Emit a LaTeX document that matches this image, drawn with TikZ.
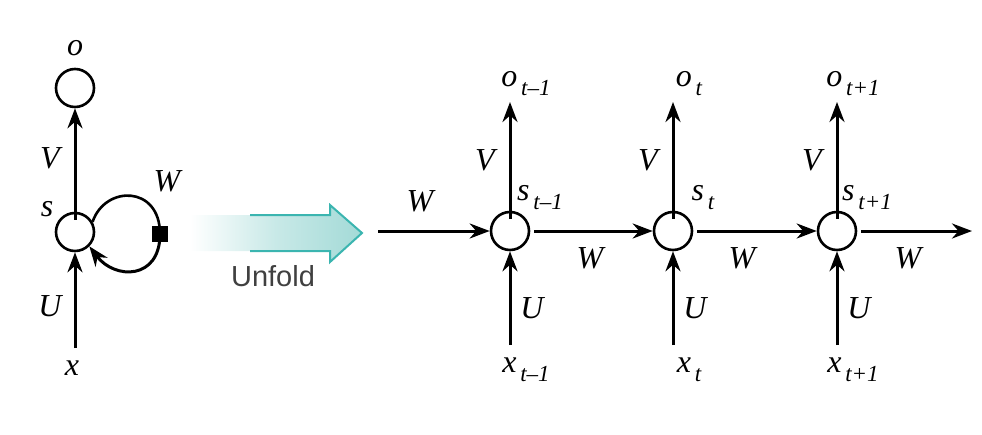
\documentclass[tikz,border=0pt]{standalone}
\usepackage{fontspec}
\setmainfont{Liberation Serif}
\setsansfont{Liberation Sans}
\usetikzlibrary{arrows.meta}
\newcommand{\lblsub}[2]{\textit{#1}\raisebox{-9pt}{\fontsize{23}{25}\selectfont\,\textit{#2}}}
\begin{document}
\begin{tikzpicture}[x=1pt,y=-1pt,
  cell/.style={circle,draw,line width=2.6pt,minimum size=38pt,inner sep=0pt},
  lab/.style={font=\fontsize{32}{36}\selectfont\itshape},
  arr/.style={line width=3pt,-{Stealth[length=20pt,width=15pt]}}]
\useasboundingbox (0,0) rectangle (982,434);
% left folded
\node[cell] (o) at (75,88) {};
\node[cell] (s) at (75,232) {};
\node[lab] at (75,48) {o};
\node[lab] at (47,209) {s};
\node[lab] at (72,368) {x};
\coordinate (xin) at (75,348);
\draw[arr] (xin) -- (s.south);
\draw[arr] ([yshift=-8pt]s.north) -- (o.south);
\node[lab] at (50,158) {V};
\node[lab] at (50,306) {U};
\node[lab] at (167,181) {W};
\coordinate (sq) at (160,234);
\draw[line width=2.6pt] (s.30) .. controls (105,185) and (160,185) .. (sq);
\draw[arr] (sq) .. controls (160,280) and (115,280) .. (s.-45);
\node[fill=black,minimum size=16pt,inner sep=0pt] (sqn) at (sq) {};
% unfold arrow
\definecolor{teal1}{HTML}{3BB5B0}
\definecolor{teal2}{HTML}{A3DAD7}
\shade[left color=white,right color=teal2,middle color=teal2!60] (190,215) -- (330,215) -- (330,205) -- (362,233) -- (330,262) -- (330,251) -- (190,251) -- cycle;
\draw[teal1,line width=2pt] (250,215) -- (330,215) -- (330,205) -- (362,233) -- (330,262) -- (330,251) -- (250,251);
\node[font=\sffamily\fontsize{29}{32}\selectfont,text=black!75] (unf) at (273,276) {Unfold};
% unfolded
\foreach \n/\X/\sub in {a/510/{t–1},b/673/{t},c/837/{t+1}}{
  \node[cell] (s\n) at (\X,231) {};
  \node[lab] at (\X+16,84) {\lblsub{o}{\sub}};
  \node[lab] at (\X+16,370) {\lblsub{x}{\sub}};
  \coordinate (x\n) at (\X,345);
  \draw[arr] (x\n) -- (s\n.south);
  \coordinate (o\n) at (\X,102);
  \draw[arr] ([yshift=-8pt]s\n.north) -- (o\n);
  \node[lab] at (\X-25,160) {V};
  \node[lab] at (\X+22,308) {U};
  \node[lab] at (\X+30,198) {\lblsub{s}{\sub}};
}
\coordinate (in) at (378,231);
\coordinate (out) at (972,231);
\draw[arr] (in) -- (sa.west);
\draw[arr] ([xshift=4pt]sa.east) -- (sb.west);
\draw[arr] ([xshift=4pt]sb.east) -- (sc.west);
\draw[arr] ([xshift=4pt]sc.east) -- (out);
\node[lab] at (420,201) {W};
\node[lab] at (590,258) {W};
\node[lab] at (742,258) {W};
\node[lab] at (908,258) {W};
\end{tikzpicture}
\end{document}
